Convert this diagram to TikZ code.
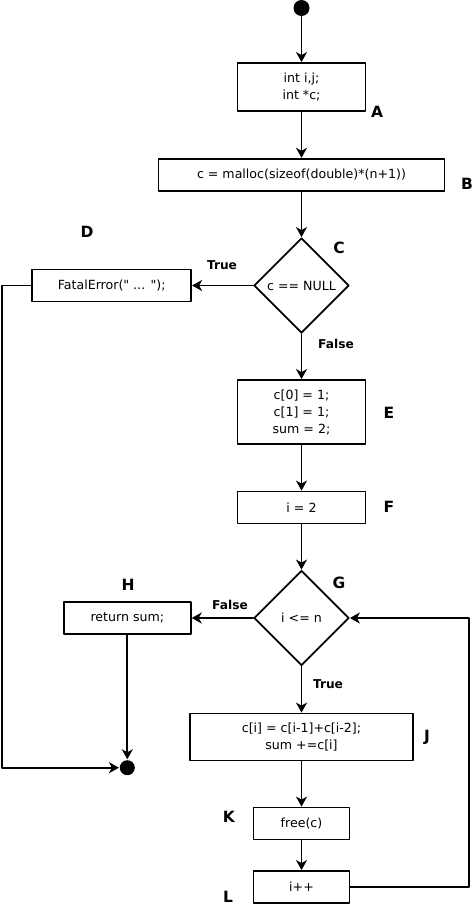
\documentclass[tikz,border=0pt]{standalone}
\usepackage{fontspec}
\setmainfont{DejaVu Sans}
\newfontfamily\codefont{DejaVu Sans}
\usetikzlibrary{shapes.geometric,arrows.meta}
\begin{document}
\begin{tikzpicture}[x=1pt,y=-1pt,line cap=round,line join=round,line width=1.8pt,
  every node/.style={font=\fontsize{12.6}{17}\selectfont},
  box/.style={draw,rectangle,line width=1.8pt,inner sep=0pt,align=center},
  test/.style={draw,diamond,aspect=1,minimum size=95pt,inner sep=0pt},
  dot/.style={circle,fill,inner sep=0pt,minimum size=16pt},
  lab/.style={font=\fontsize{15.5}{17}\selectfont\bfseries},
  cond/.style={font=\fontsize{12.2}{14}\selectfont\bfseries},
  arr/.style={-{Stealth[length=10pt,width=11pt,inset=3pt]}}]
  \useasboundingbox (0,0) rectangle (474,916);
  % main column
  \node[dot] (start) at (301.5,8) {};
  \node[box,minimum width=128pt,minimum height=48pt] (A) at (301.5,87) {int i,j;\\ int *c;};
  \node[box,minimum width=286pt,minimum height=32pt] (B) at (301.5,174.7) {c = malloc(sizeof(double)*(n+1))};
  \node[test] (C) at (301.5,285.5) {c == NULL};
  \node[box,minimum width=159pt,minimum height=32pt] (D) at (111.7,285.5) {\codefont FatalError(" ... ");};
  \node[box,minimum width=128pt,minimum height=64pt] (E) at (301.5,412) {c[0] = 1;\\ c[1] = 1;\\ sum = 2;};
  \node[box,minimum width=128pt,minimum height=32pt] (F) at (301.5,507.5) {i = 2};
  \node[test] (G) at (301.5,618) {i <= n};
  \node[box,minimum width=127pt,minimum height=32pt] (H) at (127.3,618) {return sum;};
  \node[box,minimum width=223pt,minimum height=47pt] (J) at (301.5,737) {c[i] = c[i-1]+c[i-2];\\ sum +=c[i]};
  \node[dot,minimum size=15pt] (stop) at (127.3,767.7) {};
  \node[box,minimum width=96pt,minimum height=32pt] (K) at (301.5,823.5) {free(c)};
  \node[box,minimum width=96pt,minimum height=32pt] (L) at (301.5,887) {i++};
  \coordinate (lft) at (2,767.7);
  \coordinate (rgt) at (469,618);
  % letters
  \node[lab] (labA) at (377,112) {A}; \node[lab] (labB) at (467,184) {B};
  \node[lab] (labC) at (339,248) {C}; \node[lab] (labD) at (87,232) {D};
  \node[lab] (labE) at (389,413) {E}; \node[lab] (labF) at (389,507) {F};
  \node[lab] (labG) at (339,583) {G}; \node[lab] (labH) at (128,585) {H};
  \node[lab] (labJ) at (427,737) {J}; \node[lab] (labK) at (229,817) {K};
  \node[lab] (labL) at (228,897) {L};
  % branch labels
  \node[cond] (tC) at (222,265) {True};  \node[cond] (fC) at (336,344) {False};
  \node[cond] (fG) at (230,605) {False}; \node[cond] (tG) at (328,684) {True};
  % connectors
  \draw[arr] (start) -- (A);
  \draw[arr] (A) -- (B);
  \draw[arr] (B) -- (C);
  \draw[arr] (C) -- (D);
  \draw[arr] (C) -- (E);
  \draw[arr] (E) -- (F);
  \draw[arr] (F) -- (G);
  \draw[arr] (G) -- (H);
  \draw[arr] (G) -- (J);
  \draw[arr] (J) -- (K);
  \draw[arr] (K) -- (L);
  \draw[arr] (H) -- (stop);
  \draw[arr] (D.west) -| (lft) -- (stop);
  \draw[arr] (L.east) -| (rgt) -- (G.east);
\end{tikzpicture}
\end{document}
